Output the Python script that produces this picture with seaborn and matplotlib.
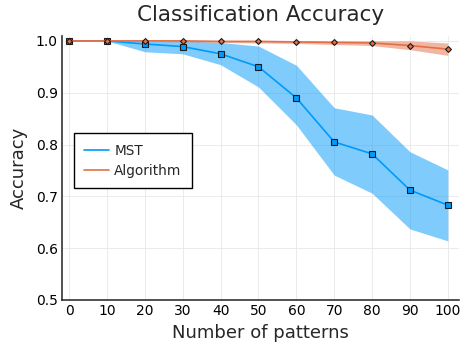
import matplotlib
matplotlib.use("Agg")
import matplotlib.pyplot as plt
import seaborn as sns
import pandas as pd

patterns = [0, 10, 20, 30, 40, 50, 60, 70, 80, 90, 100]
mst_mean = [1.0, 1.0, 0.994, 0.989, 0.975, 0.950, 0.890, 0.805, 0.782, 0.712, 0.683]
mst_upper = [1.0, 1.0, 1.0, 1.0, 0.997, 0.990, 0.953, 0.871, 0.857, 0.786, 0.751]
mst_lower = [1.0, 1.0, 0.979, 0.975, 0.954, 0.911, 0.838, 0.741, 0.706, 0.637, 0.614]
alg_mean = [1.0, 1.0, 1.0, 1.0, 0.999, 0.999, 0.998, 0.997, 0.996, 0.991, 0.984]
alg_upper = [1.0, 1.0, 1.0, 1.0, 1.0, 1.0, 1.0, 1.0, 1.0, 1.0, 0.996]
alg_lower = [1.0, 1.0, 0.999, 0.998, 0.997, 0.996, 0.995, 0.993, 0.991, 0.983, 0.972]
yticks = [0.5, 0.6, 0.7, 0.8, 0.9, 1.0]

sns.set_theme(style="white")
plt.rcParams['font.family'] = ['DejaVu Sans']

blue = "#009AFA"
orange = "#E36F47"

fig = plt.figure(figsize=(4.74, 3.55), dpi=100)
ax = fig.add_axes([0.131, 0.155, 0.837, 0.744])

df_mst = pd.DataFrame({"x": patterns, "y": mst_mean})
df_alg = pd.DataFrame({"x": patterns, "y": alg_mean})

ax.fill_between(patterns, mst_lower, mst_upper, color=blue, alpha=0.5, linewidth=0)
ax.fill_between(patterns, alg_lower, alg_upper, color=orange, alpha=0.5, linewidth=0)

sns.lineplot(data=df_mst, x="x", y="y", ax=ax, color=blue, linewidth=1.2,
             marker="s", markersize=4, markeredgecolor="#1a1a1a", markeredgewidth=0.8,
             label="MST")
sns.lineplot(data=df_alg, x="x", y="y", ax=ax, color=orange, linewidth=1.2,
             marker="D", markersize=3, markeredgecolor="#1a1a1a", markeredgewidth=0.8,
             label="Algorithm")

ax.set_xlim(-1.85, 102.9)
ax.set_ylim(0.5, 1.0097)
ax.set_xticks(patterns)
ax.set_yticks(yticks)
ax.set_yticklabels([f"{v:.1f}" for v in yticks])
ax.tick_params(axis="both", direction="in", length=3, width=0.8, labelsize=10,
               colors="#222222", pad=3)
ax.tick_params(axis="both", labelcolor="black")
ax.grid(True, color="#e8e8e8", linewidth=0.6)
for s in ["top", "right"]:
    ax.spines[s].set_visible(False)
for s in ["left", "bottom"]:
    ax.spines[s].set_color("#333333")
    ax.spines[s].set_linewidth(1.2)

ax.set_xlabel("Number of patterns", fontsize=13, labelpad=4)
ax.set_ylabel("Accuracy", fontsize=13, labelpad=6)
ax.set_title("Classification Accuracy", fontsize=15.5, pad=11)

handles = [plt.Line2D([], [], color=blue, linewidth=1.2),
           plt.Line2D([], [], color=orange, linewidth=1.2)]
leg = ax.legend(handles, ["MST", "Algorithm"], loc="lower left",
                bbox_to_anchor=(0.030, 0.424), fontsize=9.8, frameon=True,
                fancybox=False, framealpha=1, edgecolor="black",
                handlelength=1.8, handletextpad=0.4, borderpad=0.75,
                labelspacing=0.45, borderaxespad=0)
leg.get_frame().set_linewidth(1.0)

fig.savefig("out.png", dpi=100)
